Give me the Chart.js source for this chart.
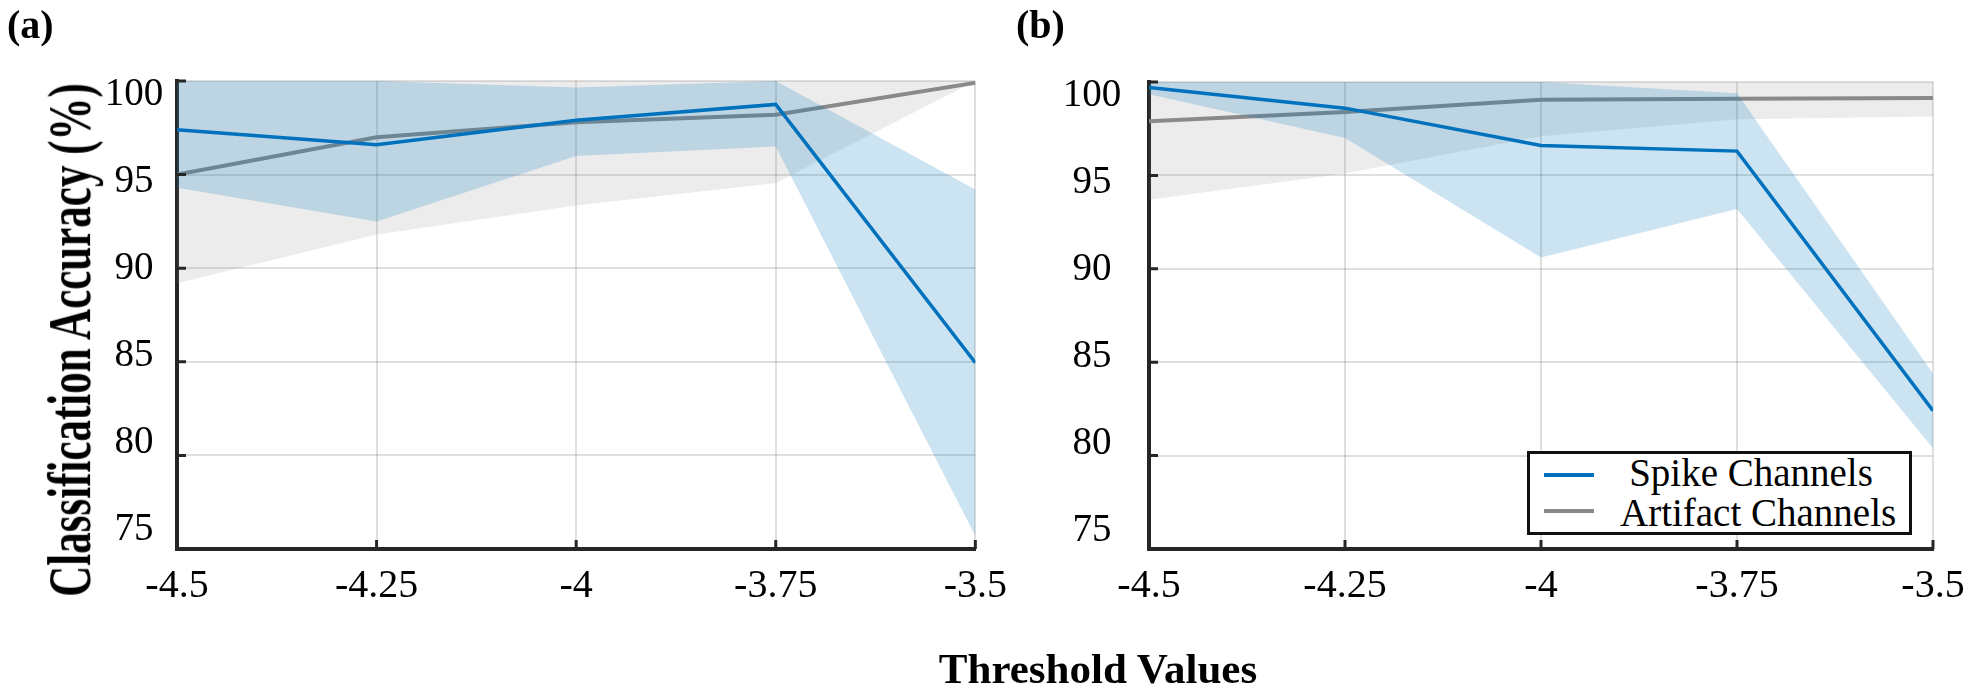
<!DOCTYPE html>
<html>
<head>
<meta charset="utf-8">
<script src="https://cdn.jsdelivr.net/npm/chart.js@4.4.1/dist/chart.umd.min.js"></script>
<style>
  html,body{margin:0;padding:0;background:#fff;}
  body{width:1979px;height:692px;position:relative;overflow:hidden;font-family:"Liberation Serif","Times New Roman",serif;color:#000;}
  canvas{position:absolute;top:0;}
  #chartA{left:0;}
  #chartB{left:1020px;}
  .panel{position:absolute;top:5px;font-weight:bold;font-size:40px;line-height:40px;}
  #ytitle{position:absolute;left:70px;top:340px;font-weight:bold;font-size:43px;line-height:43px;white-space:nowrap;
    transform:translate(-50%,-50%) rotate(-90deg) scale(1,1.4);}
  #xtitle{position:absolute;left:1098px;top:668px;font-weight:bold;font-size:43px;line-height:43px;white-space:nowrap;
    transform:translate(-50%,-50%);}
  #legend{position:absolute;left:1527px;top:451px;width:385px;height:84px;box-sizing:border-box;border:3px solid #111;background:#fff;}
  #legend .sw{position:absolute;left:14px;width:50px;height:4px;}
  #legend .lt{position:absolute;left:90px;width:262px;text-align:center;font-size:39px;line-height:40px;white-space:nowrap;}
</style>
</head>
<body>
<canvas id="chartA" width="1020" height="692"></canvas>
<canvas id="chartB" width="959" height="692"></canvas>
<div class="panel" style="left:7px">(a)</div>
<div class="panel" style="left:1016px">(b)</div>
<div id="ytitle">Classification Accuracy (%)</div>
<div id="xtitle">Threshold Values</div>
<div id="legend">
  <div class="sw" style="top:19px;background:#0072BD"></div>
  <div class="lt" style="top:-1px">Spike Channels</div>
  <div class="sw" style="top:55px;background:#8a8a8a"></div>
  <div class="lt" style="top:39px">Artifact Channels</div>
</div>
<script>
const thresholds = [-4.5, -4.25, -4, -3.75, -3.5];
const xTickLabels = ['-4.5', '-4.25', '-4', '-3.75', '-3.5'];

// panel (a)
const spikeA   = [97.4, 96.6, 97.9, 98.75, 84.95];
const spikeAHi = [100, 100, 99.65, 100, 94.2];
const spikeALo = [94.3, 92.5, 96.0, 96.5, 75.7];
const artA     = [95.0, 97.0, 97.8, 98.2, 99.9];
const artAHi   = [100, 100, 100, 100, 100];
const artALo   = [89.2, 91.8, 93.35, 94.55, 100];

// panel (b)
const spikeB   = [99.7, 98.6, 96.6, 96.3, 82.4];
const spikeBHi = [100, 100, 100, 99.4, 84.4];
const spikeBLo = [99.35, 97.0, 90.6, 93.2, 80.4];
const artB     = [97.9, 98.4, 99.05, 99.1, 99.15];
const artBHi   = [100, 100, 100, 100, 100];
const artBLo   = [93.7, 95.1, 97.1, 98.0, 98.15];

const BLUE = '#0072BD';
const BLUE_BAND = 'rgba(0,114,189,0.2)';
const GRAY = '#8a8a8a';
const GRAY_BAND = 'rgba(128,128,128,0.15)';
const GRID = 'rgba(38,38,38,0.15)';
const AXIS = '#262626';

Chart.defaults.font.family = '"Liberation Serif", "Times New Roman", serif';

function toPts(vals){ return thresholds.map((x,i)=>({x:x, y:vals[i]})); }

// inward tick marks + y labels (the original figure spreads them a bit tighter than the grid)
const axisMarks = {
  id: 'axisMarks',
  afterDraw(chart, args, opts){
    const {ctx, chartArea:a, scales:{x, y}} = chart;
    ctx.save();
    ctx.strokeStyle = AXIS; ctx.lineWidth = 3;
    ctx.beginPath();
    x.ticks.forEach(t=>{ const px = x.getPixelForValue(t.value); ctx.moveTo(px, a.bottom); ctx.lineTo(px, a.bottom-9); });
    y.ticks.forEach(t=>{ const py = y.getPixelForValue(t.value); ctx.moveTo(a.left, py); ctx.lineTo(a.left+9, py); });
    ctx.stroke();
    ctx.fillStyle = '#000';
    ctx.font = '39px "Liberation Serif"';
    ctx.textAlign = 'center'; ctx.textBaseline = 'middle';
    y.ticks.forEach(t=>{
      const py = y.getPixelForValue(t.value);
      const ly = a.top + 14 + (py - a.top)*0.93;
      ctx.fillText(String(t.value), a.left - opts.labelGap, ly);
    });
    ctx.restore();
  }
};

function makeChart(id, spike, spikeHi, spikeLo, art, artHi, artLo, box){
  return new Chart(document.getElementById(id), {
    type: 'line',
    data: { datasets: [
      {label:'Spike Channels', data: toPts(spike), borderColor: BLUE, borderWidth: 3.5, fill:false, order:0},
      {label:'spike upper', data: toPts(spikeHi), borderWidth:0, borderColor:'rgba(0,0,0,0)', backgroundColor: BLUE_BAND, fill:'+1', order:1},
      {label:'spike lower', data: toPts(spikeLo), borderWidth:0, borderColor:'rgba(0,0,0,0)', fill:false, order:1},
      {label:'Artifact Channels', data: toPts(art), borderColor: GRAY, borderWidth: 4, fill:false, order:2},
      {label:'artifact upper', data: toPts(artHi), borderWidth:0, borderColor:'rgba(0,0,0,0)', backgroundColor: GRAY_BAND, fill:'+1', order:3},
      {label:'artifact lower', data: toPts(artLo), borderWidth:0, borderColor:'rgba(0,0,0,0)', fill:false, order:3}
    ]},
    options: {
      responsive:false, animation:false,
      layout:{ padding:{top:box.top, right:box.right, left:0, bottom:0}, autoPadding:false },
      elements:{ point:{radius:0}, line:{tension:0} },
      plugins:{ legend:{display:false}, tooltip:{enabled:false}, axisMarks:{labelGap: box.labelGap} },
      scales:{
        x:{ type:'linear', min:-4.5, max:-3.5, z:1,
          afterFit: s => { s.height = 143; },
          ticks:{ stepSize:0.25, padding:13, color:'#000', font:{size:40}, maxRotation:0, autoSkip:false,
            callback: v => { const i = thresholds.indexOf(v); return i >= 0 ? xTickLabels[i] : ''; } },
          grid:{ color:GRID, lineWidth:2, drawTicks:false },
          border:{ color:AXIS, width:4 } },
        y:{ type:'linear', min:75, max:100, z:1,
          afterFit: s => { s.width = box.yWidth; },
          ticks:{ stepSize:5, display:false },
          grid:{ color:GRID, lineWidth:2, drawTicks:false },
          border:{ color:AXIS, width:4 } }
      }
    },
    plugins:[axisMarks]
  });
}

makeChart('chartA', spikeA, spikeAHi, spikeALo, artA, artAHi, artALo, {top:81, right:39, yWidth:177, labelGap:43});
makeChart('chartB', spikeB, spikeBHi, spikeBLo, artB, artBHi, artBLo, {top:82, right:46, yWidth:129, labelGap:57});
</script>
</body>
</html>
